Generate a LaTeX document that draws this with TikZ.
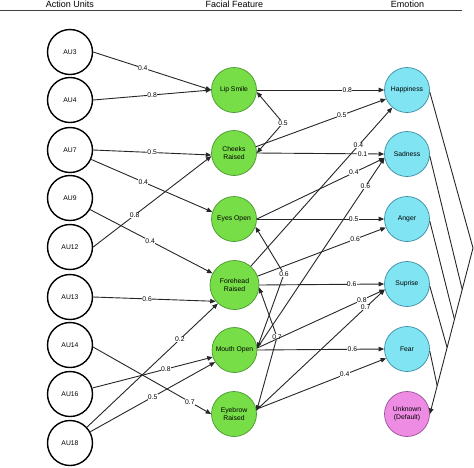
\documentclass[tikz,border=0pt]{standalone}
\usepackage{fontspec}
\setmainfont{Liberation Sans}
\usetikzlibrary{arrows.meta,calc}
\definecolor{ffgreen}{RGB}{120,222,72}
\definecolor{ffborder}{RGB}{70,150,45}
\definecolor{emcyan}{RGB}{128,228,242}
\definecolor{emborder}{RGB}{60,140,160}
\definecolor{unkpink}{RGB}{238,140,228}
\definecolor{unkborder}{RGB}{150,80,150}
\newcommand\fsz{\fontsize{6.8}{7.8}\selectfont}
\newcommand\hsz{\fontsize{9}{10}\selectfont}
\begin{document}
\begin{tikzpicture}[x=1pt,y=-1pt,
  au/.style={circle,draw=black,line width=1.4pt,fill=white,minimum size=45pt,inner sep=0pt,font=\fsz},
  ff/.style={circle,draw=ffborder,line width=0.7pt,fill=ffgreen,minimum size=45pt,inner sep=0pt,font=\fsz,align=center},
  em/.style={circle,draw=emborder,line width=0.7pt,fill=emcyan,minimum size=45pt,inner sep=0pt,font=\fsz,align=center},
  unk/.style={circle,draw=unkborder,line width=0.7pt,fill=unkpink,minimum size=45pt,inner sep=0pt,font=\fsz,align=center},
  arr/.style={line width=0.9pt,black!85,-{Triangle[length=5.5pt,width=4.5pt]}},
  biarr/.style={line width=0.9pt,black!85,{Triangle[length=5.5pt,width=4.5pt]}-{Triangle[length=5.5pt,width=4.5pt]}},
  plain/.style={line width=0.9pt,black!85},
  lbl/.style={fill=white,inner sep=0.3pt,font=\fsz,text=black},
  hdr/.style={font=\hsz,inner sep=0pt,anchor=base}
]
\useasboundingbox (0,0) rectangle (474,467);
% headers
\node[hdr] (h1) at (70,7.5) {Action Units};
\node[hdr] (h2) at (234.5,7.5) {Facial Feature};
\node[hdr] (h3) at (407.5,7.5) {Emotion};
\coordinate (hl) at (0,10.5);
\coordinate (hr) at (462,10.5);
\draw[black!75,line width=0.9pt] (hl) -- (hr);
% action units
\node[au] (au3) at (70,52) {AU3};
\node[au] (au4) at (70,100) {AU4};
\node[au] (au7) at (70,150) {AU7};
\node[au] (au9) at (70,198) {AU9};
\node[au] (au12) at (70,247) {AU12};
\node[au] (au13) at (70,297) {AU13};
\node[au] (au14) at (70,345) {AU14};
\node[au] (au16) at (70,394) {AU16};
\node[au] (au18) at (70,443) {AU18};
% facial features
\node[ff] (lip) at (234,90) {Lip Smile};
\node[ff] (cheeks) at (234,153) {Cheeks\\Raised};
\node[ff] (eyes) at (234,219) {Eyes Open};
\node[ff,minimum size=49pt] (fore) at (234.5,285) {Forehead\\Raised};
\node[ff] (mouth) at (234.5,350) {Mouth Open};
\node[ff] (brow) at (234,414) {Eyebrow\\Raised};
% emotions
\node[em] (hap) at (407,90) {Happiness};
\node[em] (sad) at (407,154) {Sadness};
\node[em] (ang) at (407,219) {Anger};
\node[em] (sup) at (407,284) {Suprise};
\node[em] (fear) at (407,349) {Fear};
\node[unk] (unkn) at (407,414) {Unknown\\(Default)};
% AU -> facial features
\draw[arr] (au3.east) -- node[lbl,pos=0.42]{0.4} (lip.west);
\draw[arr] (au4.east) -- node[lbl,pos=0.5]{0.8} (lip.west);
\draw[arr] (au7.east) -- node[lbl,pos=0.5]{0.5} (cheeks.185);
\draw[arr] (au7.-24) -- node[lbl,pos=0.43]{0.4} (eyes.162);
\draw[arr] (au12.east) -- node[lbl,pos=0.35]{0.8} (cheeks.188);
\draw[arr] (au9.-30) -- node[lbl,pos=0.49]{0.4} (fore.152);
\draw[arr] (au13.east) -- node[lbl,pos=0.44]{0.6} (fore.221);
\draw[arr] (au18.43) -- node[lbl,pos=0.71]{0.2} (fore.228);
\draw[arr] (au16.15) -- node[lbl,pos=0.61]{0.8} (mouth.198);
\draw[arr] (au18.29) -- node[lbl,pos=0.5]{0.5} (mouth.212);
\draw[arr] (au14.-5) -- node[lbl,pos=0.82]{0.7} (brow.west);
% feature <-> feature
\coordinate (b1) at (283,123);
\coordinate (b2) at (284,274);
\coordinate (b3) at (277,337);
\draw[biarr] (lip.-5) -- (b1) node[lbl]{0.5} -- (cheeks.east);
\draw[biarr] (eyes.-20) -- (b2) node[lbl]{0.6} -- (mouth.5);
\draw[biarr] (fore.-6) -- (b3) node[lbl]{0.7} -- (brow.8);
% features -> emotions
\draw[arr] (lip.east) -- node[lbl,pos=0.71]{0.8} (hap.west);
\draw[arr] (cheeks.16) -- node[lbl,pos=0.66]{0.5} (hap.203);
\draw[arr] (fore.49) -- node[lbl,pos=0.76]{0.4} (hap.230);
\draw[arr] (cheeks.east) -- node[lbl,pos=0.83]{0.1} (sad.west);
\draw[arr] (eyes.east) -- node[lbl,pos=0.76]{0.4} (sad.190);
\draw[arr] (mouth.5) -- node[lbl,pos=0.85]{0.6} (sad.190);
\draw[arr] (eyes.east) -- node[lbl,pos=0.76]{0.5} (ang.west);
\draw[arr] (fore.21) -- node[lbl,pos=0.76]{0.6} (ang.202);
\draw[arr] (fore.east) -- node[lbl,pos=0.74]{0.6} (sup.west);
\draw[arr] (mouth.5) -- node[lbl,pos=0.82]{0.8} (sup.194);
\draw[arr] (brow.10) -- node[lbl,pos=0.85]{0.7} (sup.194);
\draw[arr] (mouth.east) -- node[lbl,pos=0.75]{0.6} (fear.west);
\draw[arr] (brow.12) -- node[lbl,pos=0.68]{0.4} (fear.204);
% emotions -> unknown bundle
\coordinate (turn) at (473,248);
\draw[arr] (hap.-5) -- (turn) -- (unkn.east);
\coordinate (jS) at ($(turn)!0.25!(unkn.east)$);
\coordinate (jA) at ($(turn)!0.43!(unkn.east)$);
\coordinate (jU) at ($(turn)!0.60!(unkn.east)$);
\coordinate (jF) at ($(turn)!0.83!(unkn.east)$);
\draw[plain] (sad.-5) -- (jS);
\draw[plain] (ang.-5) -- (jA);
\draw[plain] (sup.-5) -- (jU);
\draw[plain] (fear.-5) -- (jF);
\end{tikzpicture}
\end{document}
